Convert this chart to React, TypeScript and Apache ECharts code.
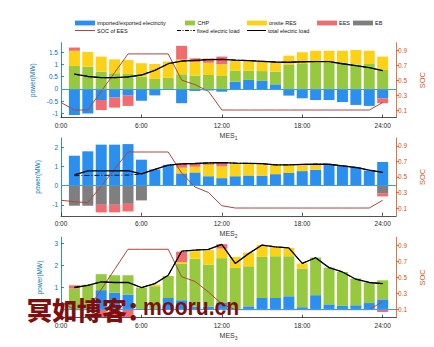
import React, { useEffect, useRef } from 'react';
import * as echarts from 'echarts';

// ---------- data ----------
const hours = [1, 2, 3, 4, 5, 6, 7, 8, 9, 10, 11, 12, 13, 14, 15, 16, 17, 18, 19, 20, 21, 22, 23, 24];
const socHours = [0, 1, 2, 3, 4, 5, 6, 7, 8, 9, 10, 11, 12, 13, 14, 15, 16, 17, 18, 19, 20, 21, 22, 23, 24];
const axisSlots = ['0', '1', '2', '3', '4', '5', '6', '7', '8', '9', '10', '11', '12', '13', '14', '15', '16', '17', '18', '19', '20', '21', '22', '23', '24', '25'];
const xTicks = [0, 6, 12, 18, 24];
const socTicks = [0.1, 0.3, 0.5, 0.7, 0.9];
const powerTicks1 = [-1, -0.5, 0, 0.5, 1, 1.5];
const powerTicks2 = [-1, 0, 1, 2];
const powerTicks3 = [0, 1, 2, 3];
const powerLabels3 = [1, 2, 3];
const panelNames = ['1', '2', '3'];

// MES1
const import1 = [-1.06, -1.0, -0.45, -0.35, -0.27, -0.48, -0.26, 0, -0.58, -0.08, -0.06, -0.11, 0.3, 0.37, 0.33, 0.19, -0.27, -0.38, -0.45, -0.45, -0.53, -0.65, -0.69, -0.38];
const chp1 = [0.94, 0.91, 0.71, 0.64, 0.61, 0.5, 0.41, 0.46, 0.6, 0.55, 0.57, 0.53, 0.45, 0.38, 0.4, 0.52, 0.98, 1.05, 1.09, 1.09, 1.08, 1.0, 1.02, 0.78];
const res1 = [0.62, 0.6, 0.61, 0.57, 0.57, 0.55, 0.61, 0.66, 0.6, 0.55, 0.5, 0.48, 0.41, 0.41, 0.39, 0.38, 0.38, 0.45, 0.47, 0.47, 0.48, 0.59, 0.54, 0.54];
const ees1 = [0.13, 0, -0.41, -0.41, -0.42, 0, 0, 0, 0.56, 0.15, 0.17, 0.31, 0, 0, 0, 0, 0, 0, 0, 0, 0, 0, 0, -0.2];
const eb1 = [0, 0, 0, 0, 0, 0, 0, 0, 0, 0, 0, 0, 0, 0, 0, 0, 0, 0, 0, 0, 0, 0, 0, 0];
const fixed1 = [0.61, 0.51, 0.46, 0.46, 0.49, 0.57, 0.76, 1.03, 1.14, 1.17, 1.2, 1.21, 1.18, 1.16, 1.13, 1.1, 1.09, 1.11, 1.12, 1.12, 1.03, 0.95, 0.87, 0.75];
const total1 = [0.61, 0.51, 0.46, 0.46, 0.49, 0.57, 0.76, 1.03, 1.14, 1.17, 1.2, 1.21, 1.18, 1.16, 1.13, 1.1, 1.09, 1.11, 1.12, 1.12, 1.03, 0.95, 0.87, 0.75];
const soc1 = [0.2, 0.1, 0.1, 0.35, 0.6, 0.85, 0.85, 0.85, 0.85, 0.5, 0.44, 0.35, 0.1, 0.1, 0.1, 0.1, 0.1, 0.1, 0.1, 0.1, 0.1, 0.1, 0.1, 0.1, 0.2];

// MES2
const import2 = [1.58, 1.81, 2.16, 2.16, 2.19, 1.37, 0.86, 1.1, 0.65, 0.7, 0.5, 0.4, 0.5, 0.54, 0.53, 0.61, 0.67, 0.77, 0.84, 1.14, 1.05, 0.98, 0.8, 1.25];
const chp2 = [0, 0, 0, 0, 0, 0, 0, 0, 0, 0, 0, 0, 0, 0, 0, 0, 0, 0, 0, 0, 0, 0, 0, 0];
const res2 = [0, 0, 0, 0, 0, 0, 0, 0, 0.3, 0.3, 0.6, 0.62, 0.69, 0.65, 0.63, 0.48, 0.43, 0.35, 0.3, 0, 0, 0, 0, 0];
const ees2 = [0, 0, -0.4, -0.4, -0.4, 0, 0, 0, 0.22, 0.18, 0.1, 0.22, 0, 0, 0, 0, 0, 0, 0, 0, 0, 0, 0, -0.17];
const eb2 = [-1.05, -1.05, -1.0, -1.0, -0.95, -0.77, 0, 0, 0, 0, 0, 0, 0, 0, 0, 0, 0, 0, 0, 0, 0, 0, 0, -0.39];
const fixed2 = [0.53, 0.54, 0.55, 0.55, 0.56, 0.62, 0.86, 1.08, 1.15, 1.17, 1.2, 1.22, 1.19, 1.18, 1.16, 1.1, 1.1, 1.12, 1.14, 1.13, 1.05, 0.96, 0.82, 0.7];
const total2 = [0.57, 0.78, 0.78, 0.78, 0.8, 0.62, 0.86, 1.08, 1.15, 1.17, 1.2, 1.22, 1.19, 1.18, 1.16, 1.1, 1.1, 1.12, 1.14, 1.13, 1.05, 0.96, 0.82, 0.7];
const soc2 = [0.2, 0.18, 0.17, 0.38, 0.6, 0.82, 0.82, 0.82, 0.82, 0.55, 0.37, 0.3, 0.13, 0.1, 0.1, 0.1, 0.1, 0.1, 0.1, 0.1, 0.1, 0.1, 0.1, 0.1, 0.2];

// MES3
const import3 = [0, 0, 0.86, 0.75, 0.66, 0, 0, 0.5, 0.4, 0.1, 0.1, 0.3, 0, 0.12, 0.5, 0.5, 0.58, 0.08, 0.63, 0.21, 0.14, 0.17, 0.27, 0.44];
const chp3 = [0.93, 1.11, 0.73, 0.79, 0.88, 0.98, 1.04, 1.01, 1.66, 2.2, 1.93, 2.02, 1.88, 1.83, 1.88, 1.91, 1.83, 1.77, 1.72, 1.68, 1.55, 1.22, 0.94, 0.87];
const res3 = [0, 0, 0, 0, 0, 0, 0.07, 0, 0.08, 0.34, 0.66, 0.44, 0.5, 0.63, 0.54, 0.43, 0.38, 0.23, 0, 0, 0, 0, 0, 0];
const ees3 = [0.15, 0, -0.37, -0.37, -0.37, 0, 0, 0, 0.48, 0, 0, 0.2, 0, 0, 0, 0, 0, 0, 0, 0, 0, 0, 0, -0.14];
const eb3 = [0, 0, 0, 0, 0, 0, 0, 0, 0, 0, 0, 0, 0, 0, 0, 0, 0, 0, 0, 0, 0, 0, 0, 0];
const fixed3 = [0.98, 1.08, 1.24, 1.21, 1.21, 0.98, 1.16, 1.54, 2.64, 2.69, 2.72, 2.95, 2.08, 2.53, 2.92, 2.84, 2.79, 2.08, 2.34, 1.89, 1.69, 1.36, 1.21, 1.16];
const total3 = [0.98, 1.08, 1.24, 1.21, 1.21, 0.98, 1.16, 1.54, 2.64, 2.69, 2.72, 2.95, 2.08, 2.53, 2.92, 2.84, 2.79, 2.08, 2.34, 1.89, 1.69, 1.36, 1.21, 1.16];
const soc3 = [0.2, 0.1, 0.1, 0.35, 0.6, 0.85, 0.85, 0.85, 0.85, 0.51, 0.45, 0.32, 0.17, 0.1, 0.1, 0.1, 0.1, 0.1, 0.1, 0.1, 0.1, 0.1, 0.1, 0.1, 0.2];

const legendBars = ['imported/exported electricity', 'CHP', 'onsite RES', 'EES', 'EB'];
const legendLines = ['SOC of EES', 'fixed electric load', 'total electric load'];

// ---------- styling ----------
const C_IMPORT = '#2b8ff0';
const C_CHP = '#96c93d';
const C_RES = '#fcd116';
const C_EES = '#f16b6f';
const C_EB = '#7f7f7f';
const C_SOC = '#ad4640';
const C_LEFT = '#0072bd';
const C_RIGHT = '#d95319';
const FONT = 'Liberation Sans';

const panels = [
  { imp: import1, chp: chp1, res: res1, ees: ees1, eb: eb1, fixed: fixed1, total: total1, soc: soc1, ticks: powerTicks1, labels: powerTicks1, min: -1.163, max: 1.888, grid: { left: 61, top: 42.7, width: 339, height: 74.8 } },
  { imp: import2, chp: chp2, res: res2, ees: ees2, eb: eb2, fixed: fixed2, total: total2, soc: soc2, ticks: powerTicks2, labels: powerTicks2, min: -1.58, max: 2.51, grid: { left: 61, top: 138, width: 339, height: 77.8 } },
  { imp: import3, chp: chp3, res: res3, ees: ees3, eb: eb3, fixed: fixed3, total: total3, soc: soc3, ticks: powerTicks3, labels: powerLabels3, min: -0.4, max: 3.28, grid: { left: 61, top: 237.2, width: 339, height: 80.5 } },
];

// place values on the 26 hourly slots of the category axis
const slot = (xs: number[], ys: number[]) => {
  const out: (number | null)[] = axisSlots.map(() => null);
  xs.forEach((x, i) => { out[x] = ys[i]; });
  return out;
};
const isHourTick = (index: number) => xTicks.indexOf(index) >= 0;

function buildOption() {
  const grid: any[] = [];
  const xAxis: any[] = [];
  const yAxis: any[] = [];
  const series: any[] = [];

  panels.forEach((p, i) => {
    grid.push(p.grid);
    xAxis.push({
      type: 'category', gridIndex: i, data: axisSlots, boundaryGap: false,
      axisLine: { show: true, onZero: false, lineStyle: { color: '#262626', width: 0.8 } },
      axisTick: { show: true, inside: true, length: 3, interval: (idx: number) => isHourTick(idx), lineStyle: { color: '#262626', width: 0.8 } },
      axisLabel: { interval: (idx: number) => isHourTick(idx), formatter: (v: string) => `${v}:00`, fontSize: 6.5, color: '#262626', margin: 4, fontFamily: FONT },
      splitLine: { show: false },
      name: `{m|MES}{s|${panelNames[i]}}`,
      nameLocation: 'middle', nameGap: 13,
      nameTextStyle: { fontFamily: FONT, rich: { m: { fontSize: 7, color: '#333', fontFamily: FONT }, s: { fontSize: 5, color: '#333', padding: [5, 0, 0, 0], fontFamily: FONT } } },
    });
    yAxis.push({
      type: 'value', gridIndex: i, position: 'left', min: p.min, max: p.max,
      axisLine: { show: true, lineStyle: { color: C_LEFT, width: 0.8 } },
      axisTick: { show: true, inside: true, length: 3, customValues: p.ticks, lineStyle: { color: C_LEFT, width: 0.8 } },
      axisLabel: { customValues: p.labels, formatter: (v: number) => String(v), fontSize: 6.5, color: C_LEFT, margin: 3, fontFamily: FONT },
      splitLine: { show: false },
      name: 'power(MW)', nameLocation: 'middle', nameGap: 18, nameRotate: 90,
      nameTextStyle: { fontSize: 6.5, color: C_LEFT, fontFamily: FONT },
    });
    yAxis.push({
      type: 'value', gridIndex: i, position: 'right', min: 0, max: 1,
      axisLine: { show: true, lineStyle: { color: C_RIGHT, width: 0.8 } },
      axisTick: { show: true, inside: false, length: 3, customValues: socTicks, lineStyle: { color: C_RIGHT, width: 0.8 } },
      axisLabel: { customValues: socTicks, formatter: (v: number) => v.toFixed(1), fontSize: 6.5, color: C_RIGHT, margin: 2, fontFamily: FONT },
      splitLine: { show: false },
      name: 'SOC', nameLocation: 'middle', nameGap: 19, nameRotate: 90,
      nameTextStyle: { fontSize: 7.5, color: C_RIGHT, fontFamily: FONT },
    });
    const stack = 's' + i;
    const barBase = { type: 'bar', xAxisIndex: i, yAxisIndex: 2 * i, stack, barWidth: 11, silent: true };
    series.push({
      ...barBase, name: 'import' + i, data: slot(hours, p.imp), itemStyle: { color: C_IMPORT },
      markLine: { silent: true, symbol: ['none', 'none'], label: { show: false }, lineStyle: { color: '#3d9be9', width: 1, type: 'solid' }, data: [{ yAxis: 0 }] },
    });
    series.push({ ...barBase, name: 'chp' + i, data: slot(hours, p.chp), itemStyle: { color: C_CHP } });
    series.push({ ...barBase, name: 'res' + i, data: slot(hours, p.res), itemStyle: { color: C_RES } });
    series.push({ ...barBase, name: 'eb' + i, data: slot(hours, p.eb), itemStyle: { color: C_EB } });
    series.push({ ...barBase, name: 'ees' + i, data: slot(hours, p.ees), itemStyle: { color: C_EES } });
    series.push({
      type: 'line', xAxisIndex: i, yAxisIndex: 2 * i + 1, data: slot(socHours, p.soc), symbol: 'none',
      lineStyle: { color: C_SOC, width: 1 }, silent: true, z: 3,
    });
    series.push({
      type: 'line', xAxisIndex: i, yAxisIndex: 2 * i, data: slot(hours, p.fixed), symbol: 'none',
      lineStyle: { color: '#111', width: 1, type: [5, 2, 1, 2] }, silent: true, z: 4,
    });
    series.push({
      type: 'line', xAxisIndex: i, yAxisIndex: 2 * i, data: slot(hours, p.total), symbol: 'none',
      lineStyle: { color: '#000', width: 1.3 }, silent: true, z: 5,
    });
  });

  const lt = (x: number, y: number, text: string) => ({
    type: 'text', x, y, silent: true,
    style: { text, fontSize: 5.5, fontFamily: FONT, fill: '#111', textVerticalAlign: 'middle', verticalAlign: 'middle' },
  });
  const box = (x: number, color: string, w = 20) => ({
    type: 'rect', silent: true, shape: { x, y: 20.6, width: w, height: 4.8 }, style: { fill: color },
  });
  const legend: any[] = [
    box(75, C_IMPORT), lt(97, 23, legendBars[0]),
    box(185, C_CHP, 10), lt(197.5, 23, legendBars[1]),
    box(247, C_RES), lt(269, 23, legendBars[2]),
    box(317, C_EES), lt(339, 23, legendBars[3]),
    box(353, C_EB), lt(375, 23, legendBars[4]),
    { type: 'line', silent: true, shape: { x1: 75, y1: 30.5, x2: 95, y2: 30.5 }, style: { stroke: C_SOC, lineWidth: 1 } },
    lt(97, 30.8, legendLines[0]),
    { type: 'line', silent: true, shape: { x1: 177, y1: 30.5, x2: 195, y2: 30.5 }, style: { stroke: '#000', lineWidth: 1, lineDash: [4, 1.5, 1, 1.5] } },
    lt(197, 30.8, legendLines[1]),
    { type: 'line', silent: true, shape: { x1: 247, y1: 30.5, x2: 266, y2: 30.5 }, style: { stroke: '#000', lineWidth: 1 } },
    lt(268, 30.8, legendLines[2]),
    {
      type: 'text', x: 27, y: 308.5, z: 100, silent: true,
      style: { text: '冥如博客：', fontSize: 25, fontWeight: 900, fontFamily: 'Noto Sans CJK SC', fill: '#7d0f0f', lineHeight: 24, textVerticalAlign: 'middle', verticalAlign: 'middle' },
    },
    {
      type: 'text', x: 143, y: 307.5, z: 100, scaleX: 0.88, silent: true,
      style: { text: 'mooru.cn', fontSize: 24, fontWeight: 'bold', fontFamily: FONT, fill: '#7d0f0f', lineHeight: 22, textVerticalAlign: 'middle', verticalAlign: 'middle' },
    },
  ];

  return {
    animation: false,
    backgroundColor: '#ffffff',
    grid, xAxis, yAxis, series,
    graphic: { elements: legend },
  };
}

export default function App() {
  const ref = useRef<HTMLDivElement>(null);
  useEffect(() => {
    if (!ref.current) return;
    const chart = echarts.init(ref.current, null, { renderer: 'svg' });
    chart.setOption(buildOption() as any);
    return () => chart.dispose();
  }, []);
  return <div ref={ref} style={{ position: 'fixed', left: 0, top: 0, width: 434, height: 347, background: '#fff' }} />;
}
